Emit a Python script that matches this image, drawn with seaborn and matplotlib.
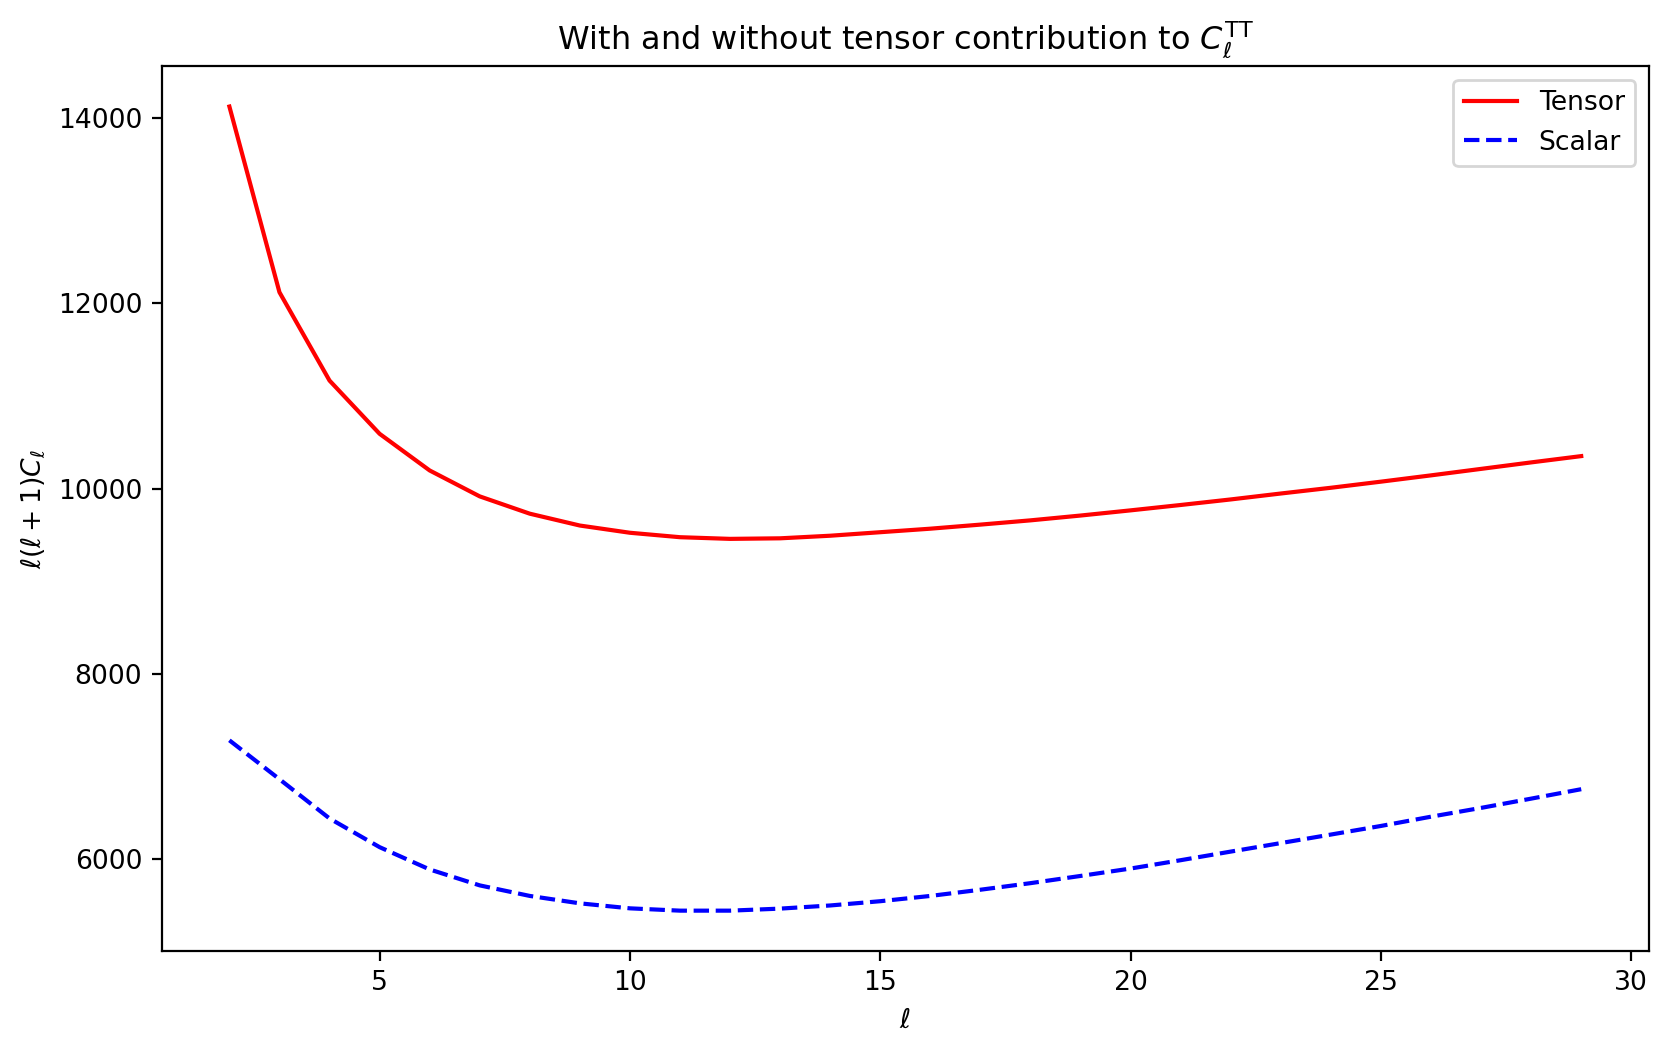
import pandas as pd
import matplotlib
matplotlib.use("Agg")
import matplotlib.pyplot as plt
import seaborn as sns

ell = list(range(2, 30))
tensor = [14126, 12120, 11166, 10591, 10195, 9915, 9728, 9600, 9522, 9474,
          9456, 9462, 9490, 9528, 9566, 9610, 9656, 9708, 9764, 9822,
          9882, 9946, 10008, 10074, 10142, 10212, 10282, 10350]
scalar = [7280, 6860, 6436, 6126, 5885, 5713, 5599, 5519, 5465, 5440,
          5440, 5462, 5496, 5542, 5599, 5666, 5737, 5815, 5895, 5985,
          6078, 6170, 6262, 6355, 6455, 6550, 6650, 6752]

df = pd.DataFrame({"ell": ell, "Tensor": tensor, "Scalar": scalar})

plt.rcParams["font.size"] = 9.6

fig = plt.figure(figsize=(8.34, 5.265), dpi=200)
ax = fig.add_axes([0.097, 0.097, 0.8915, 0.84])

sns.lineplot(data=df, x="ell", y="Tensor", color="red", linestyle="-", label="Tensor", ax=ax)
sns.lineplot(data=df, x="ell", y="Scalar", color="blue", linestyle="--", label="Scalar", ax=ax)

ax.set_title(r"With and without tensor contribution to $C_\ell^{\mathrm{TT}}$")
ax.set_xlabel(r"$\ell$")
ax.set_ylabel(r"$\ell(\ell+1)C_\ell$")
ax.legend(loc="upper right")

fig.savefig("out.png", dpi=200)
